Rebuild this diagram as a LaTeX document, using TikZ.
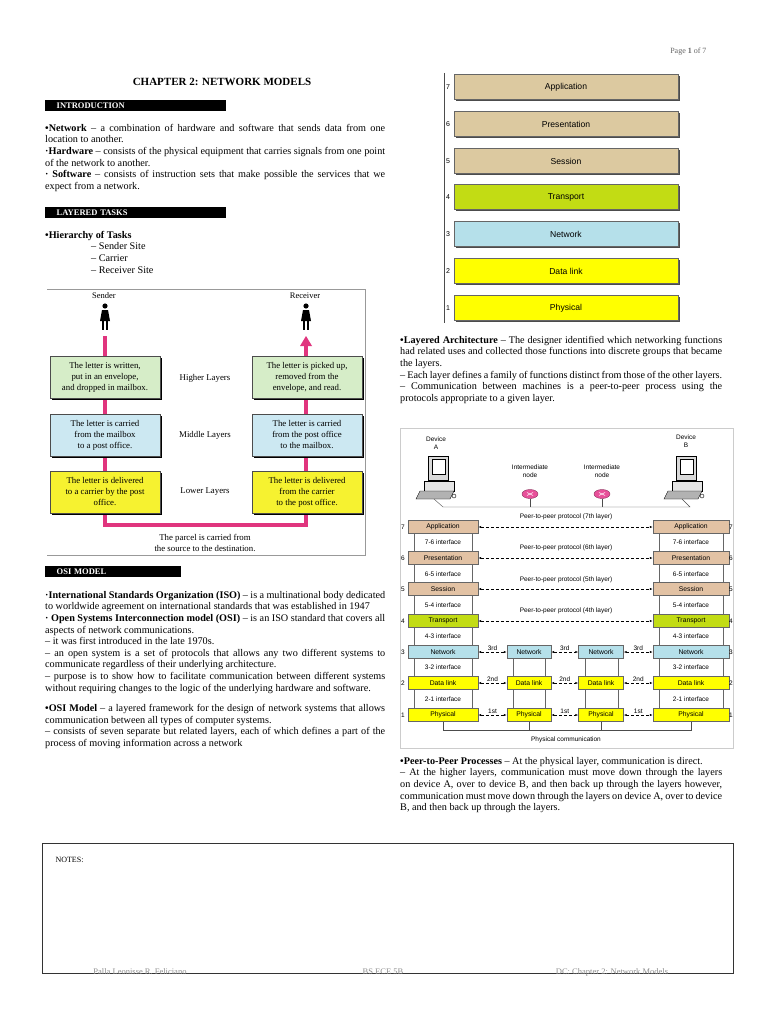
\documentclass[tikz,border=0pt]{standalone}
\usepackage{fontspec}
\setmainfont{Liberation Serif}
\newfontfamily\dsans{Liberation Sans}
\usetikzlibrary{arrows.meta,shadows,shapes.geometric}
\hyphenpenalty=10000
\exhyphenpenalty=10000
\emergencystretch=30pt
\definecolor{tanL}{HTML}{DCC9A0}
\definecolor{tanD}{HTML}{E2C2A4}
\definecolor{grnL}{HTML}{C2DC14}
\definecolor{bluL}{HTML}{B5E0EA}
\definecolor{yelL}{HTML}{FFFF00}
\definecolor{lgrn}{HTML}{D6EDC8}
\definecolor{lblu}{HTML}{CCE8F2}
\definecolor{lyel}{HTML}{F6F230}
\definecolor{pinkL}{HTML}{E0357E}
\definecolor{rtr}{HTML}{E8509A}
\tikzset{
 para/.style={anchor=north west, inner sep=0pt, text width=340pt, align=justify, font=\fontsize{10.2}{11.6}\selectfont},
 bar/.style={fill=black, text=white, anchor=north west, inner sep=0pt, minimum height=11pt, font=\bfseries\fontsize{8.5}{9}\selectfont, align=left, text depth=0pt},
 lbox/.style={draw=black!70, line width=0.4pt, minimum width=110pt, minimum height=42pt, align=center, font=\fontsize{8.8}{11}\selectfont, drop shadow={shadow xshift=1.5pt, shadow yshift=-1.5pt, fill=black, opacity=1}},
 obox/.style={draw=black!60, minimum width=224pt, minimum height=25pt, font=\dsans\fontsize{8.6}{9}\selectfont, drop shadow={shadow xshift=1.5pt, shadow yshift=-1.5pt, fill=black!70, opacity=1}},
 dbox/.style={draw=black!60, minimum height=13pt, font=\dsans\fontsize{6.8}{7}\selectfont, inner sep=0pt},
 dlab/.style={font=\dsans\fontsize{6.5}{7.5}\selectfont, inner sep=1pt},
 parr/.style={densely dashed, line width=0.6pt, {Latex[length=3pt]}-{Latex[length=3pt]}},
 pinkline/.style={line width=3.5pt, pinkL},
}
\begin{document}
\begin{tikzpicture}[x=1pt,y=-1pt]
\useasboundingbox (0,0) rectangle (768,1024);
\fill[white] (0,0) rectangle (768,1024);
% header
\node[font=\fontsize{8}{9}\selectfont, text=black!60, anchor=east] (pg) at (710,52) {Page \textbf{1} of 7};
\node[font=\bfseries\fontsize{11}{13}\selectfont] (title) at (222,82) {CHAPTER 2: NETWORK MODELS};
% intro
\node[bar, minimum width=181pt, text width=178pt] (b1) at (45,100) {\hspace*{10pt}INTRODUCTION};
\node[para] (t1) at (45,124) {\textbf{•Network} – a combination of hardware and software that sends data from one location to another.\\
\textbf{·Hardware} – consists of the physical equipment that carries signals from one point of the network to another.\\
\textbf{· Software} – consists of instruction sets that make possible the services that we expect from a network.};
\node[bar, minimum width=181pt, text width=178pt] (b2) at (45,207) {\hspace*{10pt}LAYERED TASKS};
\node[para] (t2) at (45,231) {\textbf{•Hierarchy of Tasks}\\
\hspace*{46pt}– Sender Site\\\hspace*{46pt}– Carrier\\\hspace*{46pt}– Receiver Site};
% letter figure
\draw[black!40, line width=0.6pt] (47,289) -- (365,289) -- (365,555) -- (47,555);
\node[font=\fontsize{8.5}{10}\selectfont] (snd) at (104,296) {Sender};
\node[font=\fontsize{8.5}{10}\selectfont] (rcv) at (305,296) {Receiver};
\foreach \px/\nm in {105/ps,306/pr}{
  \fill (\px,306) circle (2.6pt);
  \fill (\px-3,310) -- (\px+3,310) -- (\px+5,321) -- (\px-5,321) -- cycle;
  \fill (\px-3,321) rectangle (\px-1,330);
  \fill (\px+1,321) rectangle (\px+3,330);
  \coordinate (\nm) at (\px,336);
}
\coordinate (cL) at (105,525);
\coordinate (cR) at (306,525);
\draw[pinkline] (ps) -- (cL) -- (cR) -- (306,345);
\fill[pinkL] (300,346) -- (312,346) -- (306,336) -- cycle;
\node[lbox, fill=lgrn] (s1) at (105,377) {The letter is written,\\put in an envelope,\\and dropped in mailbox.};
\node[lbox, fill=lblu] (s2) at (105,435) {The letter is carried\\from the mailbox\\to a post office.};
\node[lbox, fill=lyel] (s3) at (105,492) {The letter is delivered\\to a carrier by the post\\office.};
\node[lbox, fill=lgrn] (r1) at (307,377) {The letter is picked up,\\removed from the\\envelope, and read.};
\node[lbox, fill=lblu] (r2) at (307,435) {The letter is carried\\from the post office\\to the mailbox.};
\node[lbox, fill=lyel] (r3) at (307,492) {The letter is delivered\\from the carrier\\to the post office.};
\node[font=\fontsize{8.8}{10}\selectfont] (h1) at (205,378) {Higher Layers};
\node[font=\fontsize{8.8}{10}\selectfont] (h2) at (205,435) {Middle Layers};
\node[font=\fontsize{8.8}{10}\selectfont] (h3) at (205,492) {Lower Layers};
\node[font=\fontsize{8.8}{11.5}\selectfont, align=center] (pc) at (205,543) {The parcel is carried from\\the source to the destination.};
% OSI model text
\node[bar, minimum width=136pt, text width=133pt] (b3) at (45,566) {\hspace*{10pt}OSI MODEL};
\node[para] (t3) at (45,591) {\textbf{·International Standards Organization (ISO)} – is a multinational body dedicated to worldwide agreement on international standards that was established in 1947\\
\textbf{· Open Systems Interconnection model (OSI)} – is an ISO standard that covers all aspects of network communications.\\
– it was first introduced in the late 1970s.\\
– an open system is a set of protocols that allows any two different systems to communicate regardless of their underlying architecture.\\
– purpose is to show how to facilitate communication between different systems without requiring changes to the logic of the underlying hardware and software.\\[9pt]
\textbf{•OSI Model} – a layered framework for the design of network systems that allows communication between all types of computer systems.\\
– consists of seven separate but related layers, each of which defines a part of the process of moving information across a network};
% OSI layers top right
\draw[black!70] (444,73) -- (444,323);
\foreach \n/\lab/\c/\yy in {7/Application/tanL/87, 6/Presentation/tanL/124, 5/Session/tanL/161, 4/Transport/grnL/197, 3/Network/bluL/234, 2/Data link/yelL/271, 1/Physical/yelL/308}{
  \node[obox, fill=\c] (o\n) at (566,\yy) {\lab};
  \node[font=\dsans\fontsize{7}{8}\selectfont, inner sep=0pt] (on\n) at (448,\yy) {\n};
}
% layered architecture text
\node[para, text width=322pt] (t4) at (400,336) {\textbf{•Layered Architecture} – The designer identified which networking functions had related uses and collected those functions into discrete groups that became the layers.\\
– Each layer defines a family of functions distinct from those of the other layers.\\
– Communication between machines is a peer-to-peer process using the protocols appropriate to a given layer.};
% device diagram
\draw[black!20, fill=white] (400,428) rectangle (733,748);
\node[dlab, align=center] (da) at (436,443) {Device\\A};
\node[dlab, align=center] (db) at (686,441) {Device\\B};
\foreach \cx/\nm in {440/ca,688/cb}{
  \draw[fill=black!15] (\cx-12,456) rectangle (\cx+8,480);
  \draw[fill=white] (\cx-8,459) rectangle (\cx+5,474);
  \draw[fill=black!10] (\cx-16,481) rectangle (\cx+14,491);
  \draw[fill=black!30] (\cx-20,491) -- (\cx+14,491) -- (\cx+10,499) -- (\cx-24,499) -- cycle;
  \draw (\cx+14,496) circle (2pt);
  \coordinate (\nm) at (\cx-6,499);
}
\node[dlab, align=center] (ia) at (530,471) {Intermediate\\node};
\node[dlab, align=center] (ib) at (602,471) {Intermediate\\node};
\node[ellipse, fill=rtr, draw=rtr!60!black, minimum width=16pt, minimum height=9pt, inner sep=0pt] (ra) at (530,494) {};
\node[ellipse, fill=rtr, draw=rtr!60!black, minimum width=16pt, minimum height=9pt, inner sep=0pt] (rb) at (602,494) {};
\draw[white, line width=0.5pt] ([xshift=-3pt,yshift=-1.5pt]ra.center) -- ([xshift=3pt,yshift=1.5pt]ra.center) ([xshift=-3pt,yshift=1.5pt]ra.center) -- ([xshift=3pt,yshift=-1.5pt]ra.center);
\draw[white, line width=0.5pt] ([xshift=-3pt,yshift=-1.5pt]rb.center) -- ([xshift=3pt,yshift=1.5pt]rb.center) ([xshift=-3pt,yshift=1.5pt]rb.center) -- ([xshift=3pt,yshift=-1.5pt]rb.center);
\draw[black!70] (ca) -- (443,507) -- (690,507) -- (cb);
\draw[black!70] (ra) -- (530,507);
\draw[black!70] (rb) -- (602,507);
% columns
\draw[black!60] (414,527) -- (414,715) (472,527) -- (472,715);
\draw[black!60] (659,527) -- (659,715) (723,527) -- (723,715);
\draw[black!60] (513,652) -- (513,715) (545,652) -- (545,715);
\draw[black!60] (585,652) -- (585,715) (618,652) -- (618,715);
\foreach \n/\lab/\c/\yy in {7/Application/tanD/527, 6/Presentation/tanD/558, 5/Session/tanD/589, 4/Transport/grnL/621, 3/Network/bluL/652, 2/Data link/yelL/683, 1/Physical/yelL/715}{
  \node[dbox, fill=\c, minimum width=70pt] (L\n) at (443,\yy) {\lab};
  \node[dbox, fill=\c, minimum width=76pt] (R\n) at (691,\yy) {\lab};
  \node[dlab] (nl\n) at (403,\yy) {\n};
  \node[dlab] (nr\n) at (731,\yy) {\n};
}
\foreach \n/\lab/\c/\yy in {3/Network/bluL/652, 2/Data link/yelL/683, 1/Physical/yelL/715}{
  \node[dbox, fill=\c, minimum width=44pt] (M\n) at (529,\yy) {\lab};
  \node[dbox, fill=\c, minimum width=45pt] (N\n) at (601,\yy) {\lab};
}
\foreach \a/\yy in {7-6/542,6-5/574,5-4/605,4-3/636,3-2/667,2-1/699}{
  \node[dlab] at (443,\yy) {\a\ interface};
  \node[dlab] at (691,\yy) {\a\ interface};
}
\foreach \n/\o/\yy in {7/7th/517,6/6th/548,5/5th/580,4/4th/611}{
  \node[dlab] (pp\n) at (566,\yy) {Peer-to-peer protocol (\o\ layer)};
  \draw[parr] (L\n) -- (R\n);
}
\foreach \n/\o in {3/3rd,2/2nd,1/1st}{
  \draw[parr] (L\n) -- node[dlab, above] {\o} (M\n);
  \draw[parr] (M\n) -- node[dlab, above] {\o} (N\n);
  \draw[parr] (N\n) -- node[dlab, above] {\o} (R\n);
}
\draw[black!70] (L1.south) -- (443,730) -- (691,730) -- (R1.south);
\draw[black!70] (M1.south) -- (529,730) (N1.south) -- (601,730);
\node[dlab] (phc) at (566,740) {Physical communication};
% peer to peer text
\node[para, text width=322pt] (t5) at (400,757) {\textbf{•Peer-to-Peer Processes} – At the physical layer, communication is direct.\\
– At the higher layers, communication must move down through the layers on device A, over to device B, and then back up through the layers however, communication must move down through the layers on device A, over to device B, and then back up through the layers.};
% notes
\draw[black!80, line width=0.8pt] (42,843) rectangle (733,973);
\node[anchor=west, font=\fontsize{8}{9}\selectfont] (nt) at (52,860) {NOTES:};
\node[font=\fontsize{8.5}{9}\selectfont, text=black!45] (f1) at (140,972) {Palla Leonisse R. Feliciano};
\node[font=\fontsize{8.5}{9}\selectfont, text=black!45] (f2) at (383,972) {BS ECE 5B};
\node[font=\fontsize{8.5}{9}\selectfont, text=black!45] (f3) at (612,972) {DC: Chapter 2: Network Models};
\end{tikzpicture}
\end{document}
